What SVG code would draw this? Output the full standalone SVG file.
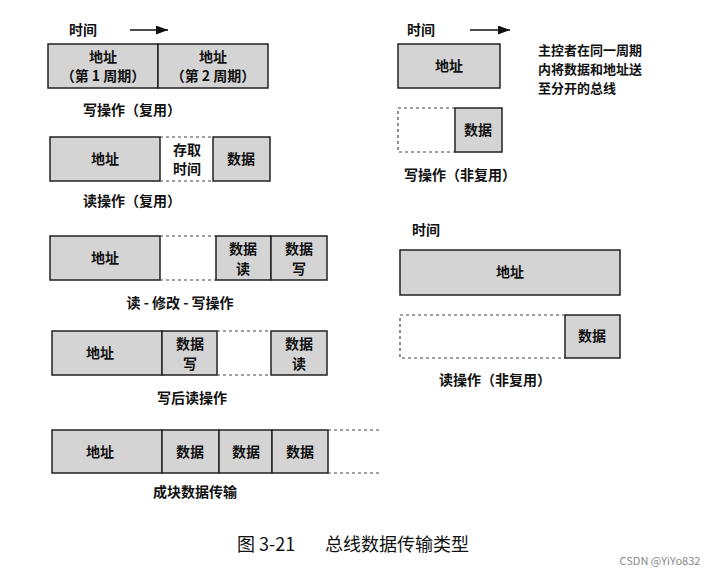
<svg xmlns="http://www.w3.org/2000/svg" width="716" height="575" viewBox="0 0 716 575">
<defs><marker id="ah" markerWidth="8" markerHeight="6" refX="8" refY="3" orient="auto"><path d="M0,0L8,3L0,6z" fill="#111"/></marker></defs>
<style>
text{font-family:"Noto Sans CJK SC","Liberation Sans",sans-serif;font-size:14px;font-weight:bold;fill:#111;text-anchor:middle}
.b{fill:#d4d4d4;stroke:#222;stroke-width:1.5}
.d{fill:none;stroke:#444;stroke-width:1.2;stroke-dasharray:3,3}
.s{font-size:13px;text-anchor:start}
.c{font-size:18px;font-weight:normal;text-anchor:start}
</style>
<rect width="716" height="575" fill="#fff"/>
<g id="connectors">
<line x1="130" y1="30" x2="168" y2="30" stroke="#111" stroke-width="1.5" marker-end="url(#ah)"/>
<line x1="470" y1="30" x2="510" y2="30" stroke="#111" stroke-width="1.5" marker-end="url(#ah)"/>
</g>
<text x="83" y="35">时间</text>
<text x="421" y="35">时间</text>
<text x="426" y="235">时间</text>
<g id="row1">
<rect class="b" x="48" y="44" width="110" height="44"/><rect class="b" x="158" y="44" width="110" height="44"/>
<text x="103" y="62">地址</text><text x="103" y="81">（第 1 周期）</text>
<text x="213" y="62">地址</text><text x="213" y="81">（第 2 周期）</text>
<text x="132" y="115">写操作（复用）</text>
</g>
<g id="row2">
<rect class="b" x="50" y="137" width="110" height="44"/>
<path class="d" d="M160,137H213M160,181H213"/>
<rect class="b" x="213" y="137" width="57" height="44"/>
<text x="105" y="164">地址</text><text x="187" y="155">存取</text><text x="187" y="174">时间</text><text x="241" y="164">数据</text>
<text x="132" y="206">读操作（复用）</text>
</g>
<g id="row3">
<rect class="b" x="50" y="236" width="110" height="44"/>
<path class="d" d="M160,236H216M160,280H216"/>
<rect class="b" x="216" y="236" width="55" height="44"/><rect class="b" x="271" y="236" width="56" height="44"/>
<text x="105" y="263">地址</text><text x="243" y="254">数据</text><text x="243" y="274">读</text><text x="299" y="254">数据</text><text x="299" y="274">写</text>
<text x="180" y="308">读 - 修改 - 写操作</text>
</g>
<g id="row4">
<rect class="b" x="52" y="331" width="110" height="44"/><rect class="b" x="162" y="331" width="55" height="44"/>
<path class="d" d="M217,331H271M217,375H271"/>
<rect class="b" x="271" y="331" width="56" height="44"/>
<text x="100" y="358">地址</text><text x="190" y="349">数据</text><text x="190" y="369">写</text><text x="299" y="349">数据</text><text x="299" y="369">读</text>
<text x="192" y="403">写后读操作</text>
</g>
<g id="row5">
<rect class="b" x="52" y="430" width="110" height="43"/><rect class="b" x="162" y="430" width="57" height="43"/><rect class="b" x="219" y="430" width="53" height="43"/><rect class="b" x="272" y="430" width="56" height="43"/>
<path class="d" d="M328,430H382M328,473H382"/>
<text x="100" y="457">地址</text><text x="190" y="457">数据</text><text x="246" y="457">数据</text><text x="300" y="457">数据</text>
<text x="195" y="497">成块数据传输</text>
</g>
<g id="right1">
<rect class="b" x="398" y="44" width="102" height="44"/><text x="449" y="71">地址</text>
<text class="s" x="538" y="55">主控者在同一周期</text><text class="s" x="538" y="74">内将数据和地址送</text><text class="s" x="538" y="93">至分开的总线</text>
<path class="d" d="M455,108H398V152H455"/>
<rect class="b" x="455" y="108" width="47" height="44"/><text x="478" y="135">数据</text>
<text x="460" y="180">写操作（非复用）</text>
</g>
<g id="right2">
<rect class="b" x="400" y="250" width="220" height="45"/><text x="510" y="277">地址</text>
<path class="d" d="M565,315H400V358H565"/>
<rect class="b" x="565" y="315" width="55" height="43"/><text x="592" y="341">数据</text>
<text x="495" y="385">读操作（非复用）</text>
</g>
<text class="c" x="237" y="551">图 3-21</text>
<text class="c" x="325" y="551">总线数据传输类型</text>
<text x="660" y="565" style="font-size:11px;font-weight:normal;fill:#888">CSDN @YiYo832</text>
</svg>
